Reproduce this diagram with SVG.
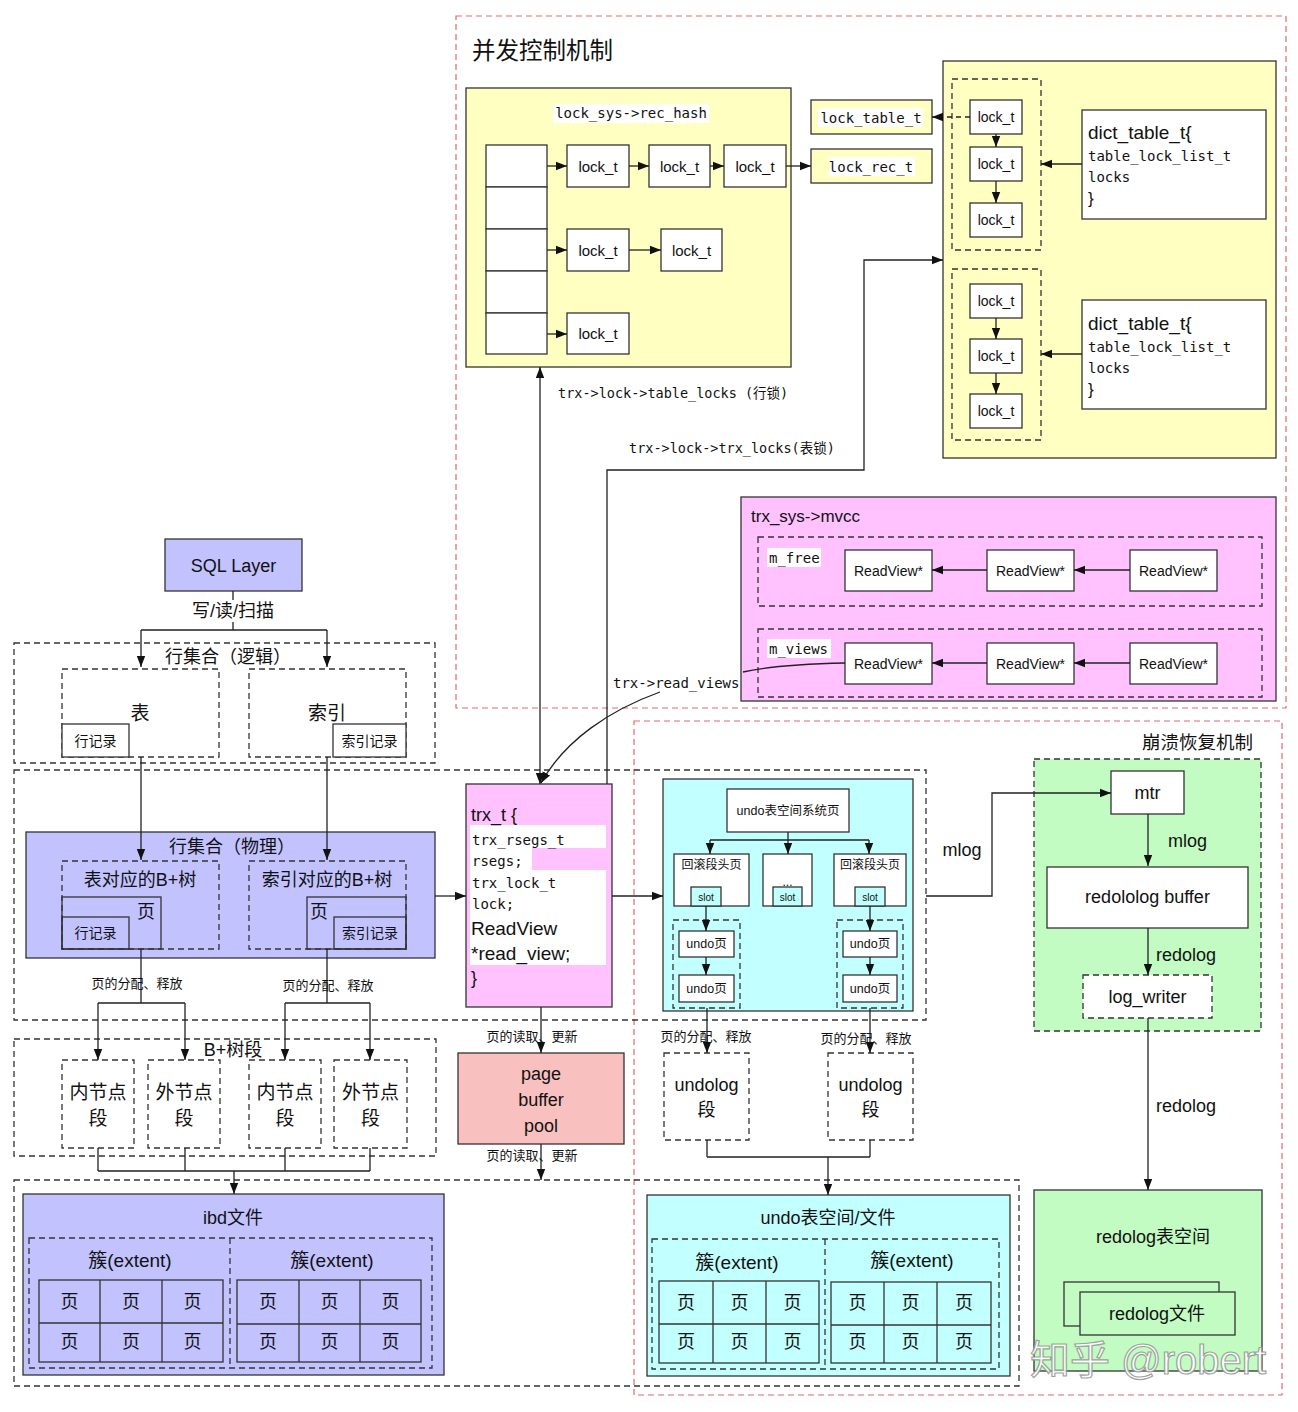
<svg xmlns="http://www.w3.org/2000/svg" width="1298" height="1412" viewBox="0 0 1298 1412">
<style>
text{font-family:"Liberation Sans","Noto Sans CJK SC",sans-serif;fill:#111;dominant-baseline:central}
.m{font-family:"DejaVu Sans Mono","Noto Sans CJK SC",monospace}
.c{text-anchor:middle}
.box{fill:#fff;stroke:#333;stroke-width:1.3}
.dash{fill:none;stroke:#333;stroke-width:1.3;stroke-dasharray:6 4}
.rdash{fill:none;stroke:#E06A6A;stroke-width:1.2;stroke-dasharray:6 4}
.yel{fill:#FFFFC2;stroke:#333;stroke-width:1.3}
.lav{fill:#C2C2FF;stroke:#333;stroke-width:1.3}
.mag{fill:#FFC2FF;stroke:#333;stroke-width:1.3}
.cyan{fill:#C2FFFF;stroke:#333;stroke-width:1.3}
.grn{fill:#C2FCC2;stroke:#333;stroke-width:1.3}
.ln{fill:none;stroke:#222;stroke-width:1.3}
.arr{fill:none;stroke:#222;stroke-width:1.3;marker-end:url(#a)}
</style>
<defs>
<marker id="a" viewBox="0 0 10 10" refX="10" refY="5" markerWidth="11" markerHeight="11" markerUnits="userSpaceOnUse" orient="auto-start-reverse"><path d="M0,1.2 L10,5 L0,8.8 z" fill="#111"/></marker>
</defs>
<rect width="1298" height="1412" fill="#fff"/>

<!-- regions -->
<g id="concurrency-region"><rect x="456" y="16" width="830" height="692" class="rdash"/><text x="472" y="51" font-size="23.5">并发控制机制</text></g>
<g id="crash-region"><rect x="634" y="721" width="648" height="674" class="rdash"/><text x="1253" y="742" font-size="18.5" text-anchor="end">崩溃恢复机制</text></g>
<g id="physical-region"><rect x="14" y="770" width="912" height="250" class="dash"/></g>
<g id="file-region"><rect x="14" y="1180" width="1005" height="206" class="dash"/></g>

<!-- rec_hash -->
<g id="rec-hash">
<rect x="466" y="88" width="325" height="279" class="yel"/>
<rect x="553" y="104" width="156" height="19" fill="#fff"/>
<text x="631" y="113" class="m c" font-size="14">lock_sys-&gt;rec_hash</text>
<rect x="486" y="145" width="61" height="42" class="box"/>
<rect x="486" y="187" width="61" height="42" class="box"/>
<rect x="486" y="229" width="61" height="42" class="box"/>
<rect x="486" y="271" width="61" height="42" class="box"/>
<rect x="486" y="313" width="61" height="41" class="box"/>
</g>
<g id="lock-r1a"><rect x="567" y="145" width="62" height="42" class="box"/><text x="598" y="166" class="c" font-size="15">lock_t</text></g>
<g id="lock-r1b"><rect x="649" y="145" width="61" height="42" class="box"/><text x="679.5" y="166" class="c" font-size="15">lock_t</text></g>
<g id="lock-r1c"><rect x="724" y="145" width="62" height="42" class="box"/><text x="755" y="166" class="c" font-size="15">lock_t</text></g>
<g id="lock-r2a"><rect x="567" y="229" width="62" height="42" class="box"/><text x="598" y="250" class="c" font-size="15">lock_t</text></g>
<g id="lock-r2b"><rect x="661" y="229" width="61" height="42" class="box"/><text x="691.5" y="250" class="c" font-size="15">lock_t</text></g>
<g id="lock-r3a"><rect x="567" y="313" width="62" height="41" class="box"/><text x="598" y="333.5" class="c" font-size="15">lock_t</text></g>

<g id="lock-table-t"><rect x="811" y="100" width="121" height="34" class="yel"/><rect x="818" y="108" width="105" height="19" fill="#fff"/><text x="871" y="118" class="m c" font-size="14">lock_table_t</text></g>
<g id="lock-rec-t"><rect x="811" y="149" width="121" height="34" class="yel"/><rect x="829" y="157" width="86" height="19" fill="#fff"/><text x="871" y="167" class="m c" font-size="14">lock_rec_t</text></g>

<!-- table locks -->
<g id="table-locks">
<rect x="943" y="61" width="333" height="397" class="yel"/>
<rect x="952" y="79" width="89" height="171" class="dash"/>
<rect x="952" y="269" width="89" height="171" class="dash"/>
</g>
<g id="tl1"><rect x="970" y="100" width="52" height="34" class="box"/><text x="996" y="117" class="c" font-size="14">lock_t</text></g>
<g id="tl2"><rect x="970" y="147" width="52" height="34" class="box"/><text x="996" y="164" class="c" font-size="14">lock_t</text></g>
<g id="tl3"><rect x="970" y="203" width="52" height="34" class="box"/><text x="996" y="220" class="c" font-size="14">lock_t</text></g>
<g id="tl4"><rect x="970" y="284" width="52" height="34" class="box"/><text x="996" y="301" class="c" font-size="14">lock_t</text></g>
<g id="tl5"><rect x="970" y="339" width="52" height="34" class="box"/><text x="996" y="356" class="c" font-size="14">lock_t</text></g>
<g id="tl6"><rect x="970" y="394" width="52" height="34" class="box"/><text x="996" y="411" class="c" font-size="14">lock_t</text></g>
<g id="dict1"><rect x="1082" y="110" width="184" height="109" class="box"/>
<text x="1088" y="132" font-size="19">dict_table_t{</text>
<text x="1088" y="156" class="m" font-size="14">table_lock_list_t</text>
<text x="1088" y="177" class="m" font-size="14">locks</text>
<text x="1088" y="198" font-size="17">}</text></g>
<g id="dict2"><rect x="1082" y="300" width="184" height="109" class="box"/>
<text x="1088" y="323" font-size="19">dict_table_t{</text>
<text x="1088" y="347" class="m" font-size="14">table_lock_list_t</text>
<text x="1088" y="368" class="m" font-size="14">locks</text>
<text x="1088" y="389" font-size="17">}</text></g>

<!-- mvcc -->
<g id="mvcc"><rect x="741" y="497" width="535" height="204" class="mag"/>
<text x="751" y="516" font-size="17">trx_sys-&gt;mvcc</text>
<rect x="758" y="537" width="504" height="69" class="dash"/>
<rect x="767" y="548" width="54" height="19" fill="#fff"/>
<text x="769" y="558" class="m" font-size="14">m_free</text>
<rect x="758" y="629" width="504" height="68" class="dash"/>
<rect x="767" y="639" width="64" height="19" fill="#fff"/>
<text x="769" y="649" class="m" font-size="14">m_views</text>
</g>
<g id="rv1"><rect x="845" y="550" width="87" height="41" class="box"/><text x="888.5" y="571" class="c" font-size="14">ReadView*</text></g>
<g id="rv2"><rect x="987" y="550" width="87" height="41" class="box"/><text x="1030.5" y="571" class="c" font-size="14">ReadView*</text></g>
<g id="rv3"><rect x="1130" y="550" width="87" height="41" class="box"/><text x="1173.5" y="571" class="c" font-size="14">ReadView*</text></g>
<g id="rv4"><rect x="845" y="643" width="87" height="41" class="box"/><text x="888.5" y="664" class="c" font-size="14">ReadView*</text></g>
<g id="rv5"><rect x="987" y="643" width="87" height="41" class="box"/><text x="1030.5" y="664" class="c" font-size="14">ReadView*</text></g>
<g id="rv6"><rect x="1130" y="643" width="87" height="41" class="box"/><text x="1173.5" y="664" class="c" font-size="14">ReadView*</text></g>

<!-- SQL / logical -->
<g id="sql-layer"><rect x="165" y="539" width="137" height="52" class="lav"/><text x="233.5" y="566" class="c" font-size="18">SQL Layer</text></g>
<g id="logical-set"><rect x="14" y="643" width="421" height="120" class="dash"/><text x="228" y="657" class="c" font-size="18">行集合（逻辑）</text></g>
<g id="table"><rect x="62" y="669" width="157" height="88" class="dash"/><text x="140" y="713" class="c" font-size="19">表</text>
<rect x="62" y="724" width="67" height="33" class="box"/><text x="95.5" y="741" class="c" font-size="14">行记录</text></g>
<g id="index"><rect x="249" y="669" width="157" height="88" class="dash"/><text x="327" y="713" class="c" font-size="19">索引</text>
<rect x="333" y="724" width="73" height="33" class="box"/><text x="369.5" y="741" class="c" font-size="14">索引记录</text></g>

<!-- physical -->
<g id="physical-set"><rect x="26" y="832" width="409" height="126" class="lav"/><text x="232" y="847" class="c" font-size="18">行集合（物理）</text></g>
<g id="table-btree"><rect x="62" y="861" width="157" height="88" class="dash"/><text x="140" y="880" class="c" font-size="18">表对应的B+树</text>
<rect x="62" y="897" width="99" height="52" fill="none" stroke="#333" stroke-width="1.3"/><text x="146" y="912" class="c" font-size="18">页</text>
<rect x="62" y="917" width="67" height="32" fill="none" stroke="#333" stroke-width="1.3"/><text x="95.5" y="933" class="c" font-size="14">行记录</text></g>
<g id="index-btree"><rect x="249" y="861" width="157" height="88" class="dash"/><text x="327" y="880" class="c" font-size="18">索引对应的B+树</text>
<rect x="307" y="897" width="99" height="52" fill="none" stroke="#333" stroke-width="1.3"/><text x="319" y="912" class="c" font-size="18">页</text>
<rect x="334" y="917" width="72" height="32" fill="none" stroke="#333" stroke-width="1.3"/><text x="370" y="933" class="c" font-size="14">索引记录</text></g>

<g id="trx-t"><rect x="466" y="784" width="146" height="223" class="mag"/>
<rect x="470" y="825" width="136" height="23" fill="#fff"/>
<rect x="470" y="848" width="62" height="22" fill="#fff"/>
<rect x="470" y="870" width="136" height="95" fill="#fff"/>
<text x="471" y="815" font-size="18">trx_t {</text>
<text x="472" y="840" class="m" font-size="14">trx_rsegs_t</text>
<text x="472" y="861" class="m" font-size="14">rsegs;</text>
<text x="472" y="883" class="m" font-size="14">trx_lock_t</text>
<text x="472" y="904" class="m" font-size="14">lock;</text>
<text x="471" y="928" font-size="19">ReadView</text>
<text x="471" y="953" font-size="19">*read_view;</text>
<text x="471" y="978" font-size="18">}</text></g>

<!-- undo -->
<g id="undo-sys"><rect x="663" y="779" width="250" height="232" class="cyan"/>
<rect x="727" y="789" width="122" height="43" class="box"/><text x="788" y="811" class="c" font-size="12.5">undo表空间系统页</text></g>
<g id="rseg1"><rect x="674" y="854" width="75" height="52" class="box"/><text x="711.5" y="865" class="c" font-size="12">回滚段头页</text>
<rect x="691" y="887" width="30" height="19" class="cyan"/><text x="706" y="897" class="c" font-size="10">slot</text></g>
<g id="rseg-mid"><rect x="763" y="854" width="49" height="52" class="box"/><text x="787.5" y="882" class="c" font-size="12">...</text>
<rect x="773" y="887" width="29" height="19" class="cyan"/><text x="787.5" y="897" class="c" font-size="10">slot</text></g>
<g id="rseg2"><rect x="834" y="854" width="72" height="52" class="box"/><text x="870" y="865" class="c" font-size="12">回滚段头页</text>
<rect x="855" y="887" width="30" height="19" class="cyan"/><text x="870" y="897" class="c" font-size="10">slot</text></g>
<g id="undo-pages1"><rect x="673" y="920" width="67" height="88" class="dash"/>
<rect x="679" y="931" width="55" height="26" class="box"/><text x="706.5" y="944" class="c" font-size="12.5">undo页</text>
<rect x="679" y="975" width="55" height="27" class="box"/><text x="706.5" y="989" class="c" font-size="12.5">undo页</text></g>
<g id="undo-pages2"><rect x="837" y="920" width="66" height="88" class="dash"/>
<rect x="843" y="931" width="54" height="26" class="box"/><text x="870" y="944" class="c" font-size="12.5">undo页</text>
<rect x="843" y="975" width="54" height="27" class="box"/><text x="870" y="989" class="c" font-size="12.5">undo页</text></g>

<!-- crash recovery -->
<g id="redo-mem"><rect x="1034" y="759" width="227" height="272" fill="#C2FCC2" stroke="#333" stroke-width="1.3" stroke-dasharray="6 4"/></g>
<g id="mtr"><rect x="1111" y="771" width="73" height="43" class="box"/><text x="1147.5" y="793" class="c" font-size="18">mtr</text></g>
<g id="redo-buffer"><rect x="1047" y="867" width="201" height="61" class="box"/><text x="1147.5" y="897" class="c" font-size="18">redololog buffer</text></g>
<g id="log-writer"><rect x="1083" y="975" width="129" height="43" fill="#fff" stroke="#333" stroke-width="1.3" stroke-dasharray="6 4"/><text x="1147.5" y="997" class="c" font-size="18">log_writer</text></g>

<!-- B+ segments -->
<g id="btree-seg"><rect x="14" y="1039" width="422" height="117" class="dash"/><text x="233" y="1050" class="c" font-size="18">B+树段</text></g>
<g id="seg1"><rect x="62" y="1060" width="72" height="88" class="dash"/><text x="98" y="1092" class="c" font-size="19">内节点</text><text x="98" y="1118" class="c" font-size="19">段</text></g>
<g id="seg2"><rect x="148" y="1060" width="72" height="88" class="dash"/><text x="184" y="1092" class="c" font-size="19">外节点</text><text x="184" y="1118" class="c" font-size="19">段</text></g>
<g id="seg3"><rect x="249" y="1060" width="72" height="88" class="dash"/><text x="285" y="1092" class="c" font-size="19">内节点</text><text x="285" y="1118" class="c" font-size="19">段</text></g>
<g id="seg4"><rect x="334" y="1060" width="73" height="88" class="dash"/><text x="370.5" y="1092" class="c" font-size="19">外节点</text><text x="370.5" y="1118" class="c" font-size="19">段</text></g>

<g id="buffer-pool"><rect x="458" y="1053" width="166" height="91" fill="#F9C0C0" stroke="#333" stroke-width="1.3"/>
<text x="541" y="1074" class="c" font-size="18">page</text><text x="541" y="1100" class="c" font-size="18">buffer</text><text x="541" y="1126" class="c" font-size="18">pool</text></g>

<g id="undolog-seg1"><rect x="664" y="1053" width="85" height="87" class="dash"/><text x="706.5" y="1085" class="c" font-size="18">undolog</text><text x="706.5" y="1110" class="c" font-size="18">段</text></g>
<g id="undolog-seg2"><rect x="828" y="1053" width="85" height="87" class="dash"/><text x="870.5" y="1085" class="c" font-size="18">undolog</text><text x="870.5" y="1110" class="c" font-size="18">段</text></g>

<!-- ibd -->
<g id="ibd"><rect x="23" y="1194" width="421" height="181" class="lav"/><text x="233" y="1218" class="c" font-size="18">ibd文件</text>
<rect x="29" y="1238" width="403" height="130" class="dash"/><line x1="230" y1="1238" x2="230" y2="1368" stroke="#333" stroke-width="1.3" stroke-dasharray="6 4"/>
<text x="130" y="1260" class="c" font-size="19">簇(extent)</text><text x="332" y="1260" class="c" font-size="19">簇(extent)</text>
<g fill="none" stroke="#333" stroke-width="1.3">
<rect x="39" y="1280" width="184" height="82"/><line x1="100" y1="1280" x2="100" y2="1362"/><line x1="162" y1="1280" x2="162" y2="1362"/><line x1="39" y1="1323" x2="223" y2="1323"/>
<rect x="237" y="1280" width="184" height="82"/><line x1="299" y1="1280" x2="299" y2="1362"/><line x1="360" y1="1280" x2="360" y2="1362"/><line x1="237" y1="1324" x2="421" y2="1324"/>
</g>
<g font-size="18">
<text x="69.5" y="1302" class="c">页</text><text x="131" y="1302" class="c">页</text><text x="192.5" y="1302" class="c">页</text>
<text x="69.5" y="1342" class="c">页</text><text x="131" y="1342" class="c">页</text><text x="192.5" y="1342" class="c">页</text>
<text x="268" y="1302" class="c">页</text><text x="329.5" y="1302" class="c">页</text><text x="390.5" y="1302" class="c">页</text>
<text x="268" y="1342" class="c">页</text><text x="329.5" y="1342" class="c">页</text><text x="390.5" y="1342" class="c">页</text>
</g></g>

<!-- undo tablespace -->
<g id="undo-ts"><rect x="647" y="1195" width="363" height="181" class="cyan"/><text x="828" y="1218" class="c" font-size="18">undo表空间/文件</text>
<rect x="652" y="1239" width="347" height="130" class="dash"/><line x1="825" y1="1239" x2="825" y2="1369" stroke="#333" stroke-width="1.3" stroke-dasharray="6 4"/>
<text x="737" y="1262" class="c" font-size="19">簇(extent)</text><text x="912" y="1260" class="c" font-size="19">簇(extent)</text>
<g fill="none" stroke="#333" stroke-width="1.3">
<rect x="659" y="1281" width="160" height="82"/><line x1="713" y1="1281" x2="713" y2="1363"/><line x1="766" y1="1281" x2="766" y2="1363"/><line x1="659" y1="1324" x2="819" y2="1324"/>
<rect x="831" y="1282" width="160" height="81"/><line x1="884" y1="1282" x2="884" y2="1363"/><line x1="937" y1="1282" x2="937" y2="1363"/><line x1="831" y1="1325" x2="991" y2="1325"/>
</g>
<g font-size="18">
<text x="686" y="1303" class="c">页</text><text x="739.5" y="1303" class="c">页</text><text x="792.5" y="1303" class="c">页</text>
<text x="686" y="1342" class="c">页</text><text x="739.5" y="1342" class="c">页</text><text x="792.5" y="1342" class="c">页</text>
<text x="857.5" y="1303" class="c">页</text><text x="910.5" y="1303" class="c">页</text><text x="964" y="1303" class="c">页</text>
<text x="857.5" y="1342" class="c">页</text><text x="910.5" y="1342" class="c">页</text><text x="964" y="1342" class="c">页</text>
</g></g>

<!-- redolog tablespace -->
<g id="redo-ts"><rect x="1034" y="1190" width="228" height="181" class="grn"/><text x="1153" y="1237" class="c" font-size="18">redolog表空间</text>
<rect x="1064" y="1282" width="155" height="44" class="grn"/>
<rect x="1080" y="1292" width="155" height="43" class="grn"/><text x="1157" y="1314" class="c" font-size="18">redolog文件</text></g>

<!-- connectors -->
<g id="connectors">
<path class="arr" d="M547,166 H567"/>
<path class="arr" d="M629,166 H649"/>
<path class="arr" d="M710,166 H724"/>
<path class="arr" d="M786,166 H811"/>
<path class="arr" d="M547,250 H567"/>
<path class="arr" d="M629,250 H661"/>
<path class="arr" d="M547,334 H567"/>
<path class="arr" d="M970,117 H932" stroke-dasharray="5 4"/>
<path class="arr" d="M996,134 V147"/>
<path class="arr" d="M996,181 V203"/>
<path class="arr" d="M996,318 V339"/>
<path class="arr" d="M996,373 V394"/>
<path class="arr" d="M1082,164 H1041"/>
<path class="arr" d="M1082,354 H1041"/>
<path class="arr" d="M987,570 H932"/>
<path class="arr" d="M1130,570 H1074"/>
<path class="arr" d="M987,663 H932"/>
<path class="arr" d="M1130,663 H1074"/>
<!-- trx to locks -->
<path class="arr" d="M540,420 V367"/>
<path class="arr" d="M540,420 V784"/>
<path class="arr" d="M607,784 V470 H864 V260 H943"/>
<rect x="556" y="383" width="244" height="20" fill="#fff"/>
<text x="558" y="393" class="m" font-size="13.5">trx-&gt;lock-&gt;table_locks (行锁)</text>
<rect x="627" y="438" width="222" height="20" fill="#fff"/>
<text x="629" y="448" class="m" font-size="13.5">trx-&gt;lock-&gt;trx_locks(表锁)</text>
<!-- read views -->
<path class="ln" d="M845,663 C800,664 765,667 743,672"/>
<path class="arr" d="M660,692 C610,710 565,740 541,783"/>
<text x="613" y="683" class="m" font-size="14">trx-&gt;read_views</text>
<!-- SQL layer -->
<path class="ln" d="M233,591 V630 H141 M233,630 H327"/>
<path class="arr" d="M141,630 V667"/>
<path class="arr" d="M327,630 V667"/>
<rect x="183" y="600" width="98" height="22" fill="#fff"/>
<text x="233" y="611" class="c" font-size="18">写/读/扫描</text>
<path class="arr" d="M141,757 V860"/>
<path class="arr" d="M327,757 V860"/>
<path class="arr" d="M435,896 H466"/>
<path class="arr" d="M612,896 H663"/>
<!-- page alloc -->
<path class="ln" d="M141,949 V1003 M98,1003 H185 M327,949 V1003 M285,1003 H370"/>
<path class="arr" d="M98,1003 V1060"/>
<path class="arr" d="M185,1003 V1060"/>
<path class="arr" d="M285,1003 V1060"/>
<path class="arr" d="M370,1003 V1060"/>
<text x="137" y="983" class="c" font-size="13">页的分配、释放</text>
<text x="328" y="985" class="c" font-size="13">页的分配、释放</text>
<path class="ln" d="M98,1148 V1171 M185,1148 V1171 M285,1148 V1171 M370,1148 V1171 M98,1171 H370"/>
<path class="arr" d="M234,1171 V1194"/>
<!-- buffer pool -->
<path class="arr" d="M541,1007 V1053"/>
<path class="arr" d="M541,1144 V1180"/>
<text x="532" y="1036" class="c" font-size="13">页的读取、更新</text>
<text x="532" y="1155" class="c" font-size="13">页的读取、更新</text>
<!-- undo -->
<path class="ln" d="M788,832 V840 M710,840 H869"/>
<path class="arr" d="M710,840 V854"/>
<path class="arr" d="M788,840 V854"/>
<path class="arr" d="M869,840 V854"/>
<path class="arr" d="M706,906 V931"/>
<path class="arr" d="M870,906 V931"/>
<path class="arr" d="M706,957 V975"/>
<path class="arr" d="M870,957 V975"/>
<path class="arr" d="M707,1008 V1053"/>
<path class="arr" d="M870,1008 V1053"/>
<text x="706" y="1036" class="c" font-size="13">页的分配、释放</text>
<text x="866" y="1038" class="c" font-size="13">页的分配、释放</text>
<path class="ln" d="M707,1140 V1157 M870,1140 V1157 M707,1157 H870"/>
<path class="arr" d="M828,1157 V1195"/>
<!-- redo -->
<path class="arr" d="M926,896 H992 V793 H1111"/>
<text x="962" y="850" class="c" font-size="18">mlog</text>
<path class="arr" d="M1148,814 V866"/>
<text x="1168" y="841" font-size="18">mlog</text>
<path class="arr" d="M1148,928 V975"/>
<text x="1156" y="955" font-size="18">redolog</text>
<path class="arr" d="M1148,1018 V1190"/>
<text x="1156" y="1106" font-size="18">redolog</text>
</g>

<text x="1030" y="1360" font-size="40" stroke="#999" stroke-width="1.2" opacity="0.9" style="fill:#fff">知乎 @robert</text>
</svg>
